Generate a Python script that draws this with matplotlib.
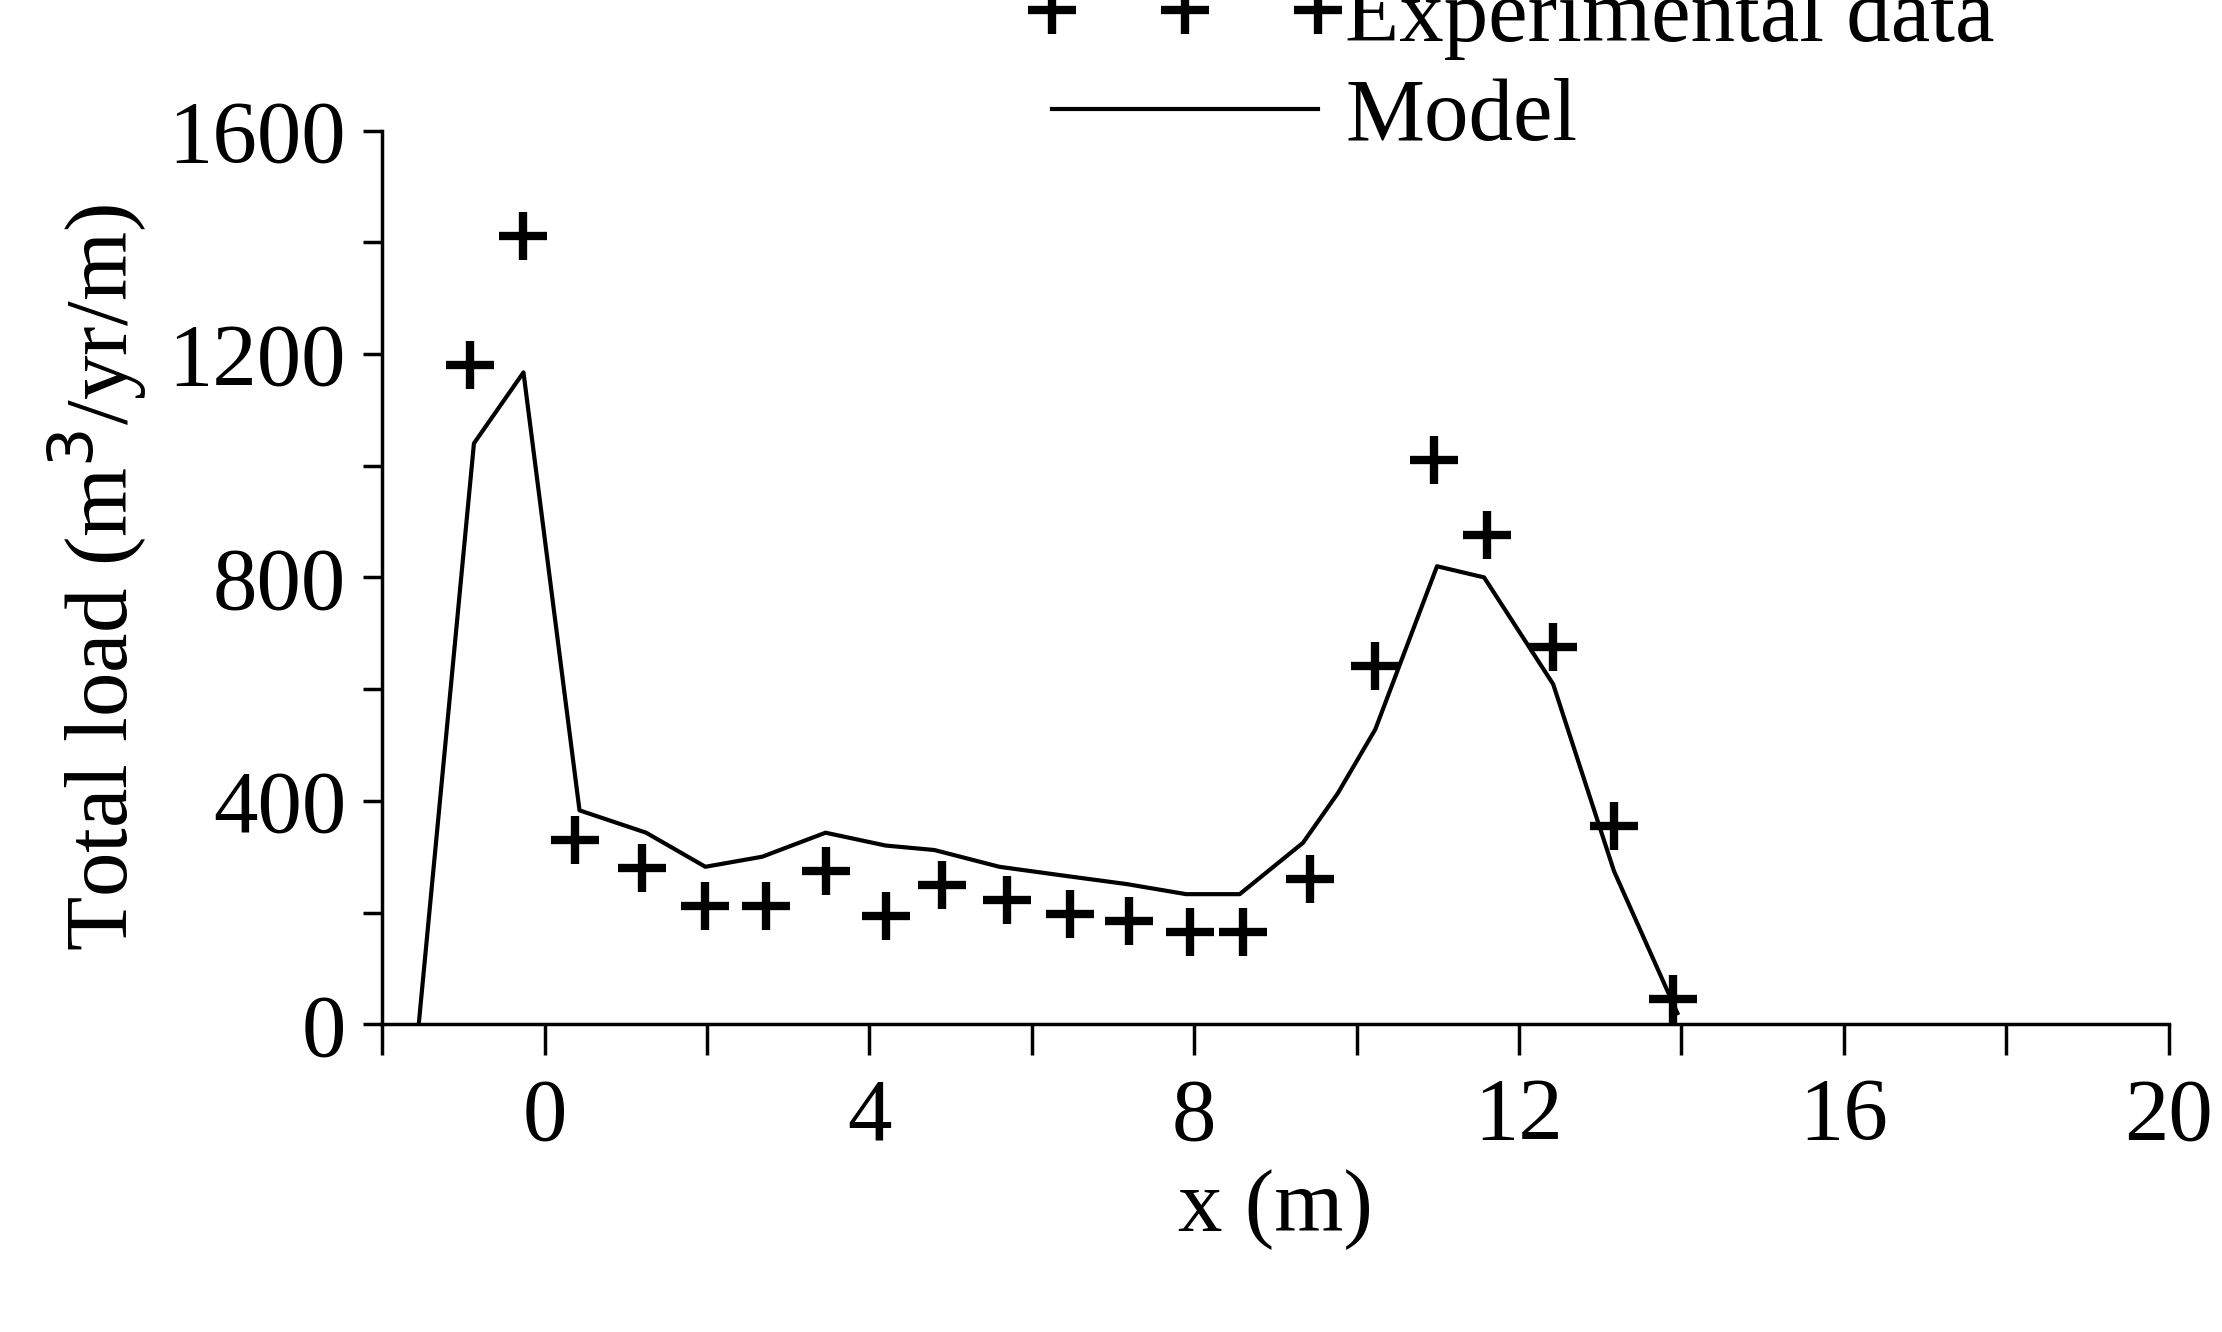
import matplotlib as mpl
import matplotlib.pyplot as plt

mpl.rcParams['font.family'] = 'Liberation Serif'

# model curve
model_x = [-1.55, -0.87, -0.26, 0.43, 1.25, 1.98, 2.68, 3.46, 4.2, 4.8, 5.6, 6.4, 7.17, 7.9,
           8.56, 9.34, 9.77, 10.23, 10.99, 11.57, 12.42, 13.17, 13.95]
model_y = [0, 1040, 1167, 383, 343, 282, 300, 343, 320, 312, 282, 266, 251, 233,
           233, 325, 414, 528, 820, 800, 609, 274, 20]

# experimental points
exp_x = [-0.92, -0.26, 0.38, 1.2, 1.98, 2.73, 3.46, 4.2, 4.9, 5.69, 6.47, 7.2, 7.95, 8.6,
         9.42, 10.23, 10.95, 11.6, 12.42, 13.17, 13.9]
exp_y = [1180, 1411, 330, 279, 211, 211, 274, 193, 249, 223, 198, 185, 165, 165,
         261, 642, 1010, 876, 675, 355, 46]

fig = plt.figure(figsize=(22.22, 13.32), dpi=100)
ax = fig.add_axes([0.172, 0.231, 0.804, 0.671])

ax.plot(exp_x, exp_y, linestyle='none', marker='+', markersize=34, markeredgewidth=6,
        color='k', label='Experimental data')
ax.plot(model_x, model_y, color='k', linewidth=3, label='Model')

ax.set_xlim(-2, 20)
ax.set_ylim(0, 1600)
ax.set_xticks([0, 4, 8, 12, 16, 20])
ax.set_xticks(range(-2, 21, 2), minor=True)
ax.set_yticks([0, 400, 800, 1200, 1600])
ax.set_yticks(range(0, 1601, 200), minor=True)
ax.spines['top'].set_visible(False)
ax.spines['right'].set_visible(False)
for s in ['left', 'bottom']:
    ax.spines[s].set_linewidth(2.5)
ax.tick_params(which='both', direction='out', width=2.5, colors='k')
ax.tick_params(which='major', length=22, labelsize=64, pad=16)
ax.tick_params(which='minor', length=22)
ax.tick_params(axis='y', which='both', length=14, pad=12)

ax.set_xlabel('x (m)', fontsize=64, labelpad=8)
ax.set_ylabel('Total load (m$^3$/yr/m)', fontsize=64, labelpad=14)

ax.legend(loc='upper left', bbox_to_anchor=(0.34, 1.21), frameon=False, fontsize=64,
          numpoints=3, handlelength=3.6, handletextpad=0.0, labelspacing=0.2,
          borderaxespad=0)

fig.savefig('out.png', dpi=100)
